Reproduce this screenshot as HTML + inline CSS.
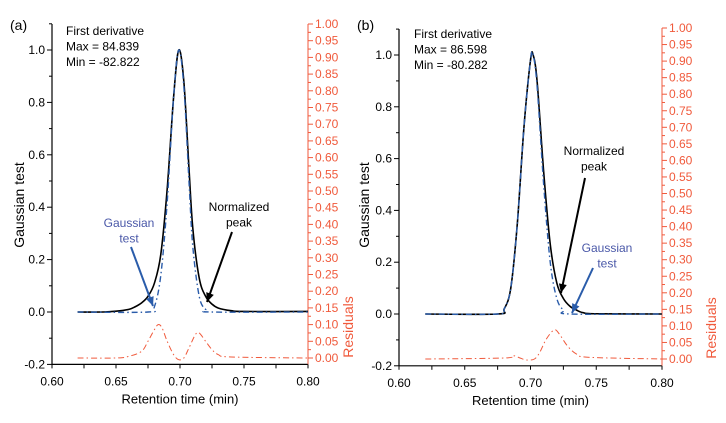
<!DOCTYPE html>
<html><head><meta charset="utf-8"><style>
body{margin:0;background:#fff;}
svg{display:block;font-family:"Liberation Sans",sans-serif;}
</style></head><body>
<svg id="c" width="726" height="423" viewBox="0 0 726 423"></svg>
<script>
const xs_a=[0.62,0.64,0.65,0.66,0.665,0.67,0.675,0.68,0.685,0.69,0.695,0.699,0.703,0.707,0.71,0.715,0.72,0.725,0.73,0.74,0.75,0.8];
const peak_a=[0,0,0.003,0.01,0.02,0.035,0.06,0.11,0.22,0.47,0.82,1.0,0.88,0.55,0.32,0.13,0.06,0.03,0.015,0.005,0.002,0.002];
const gxs_a=[0.62,0.675,0.68,0.685,0.69,0.695,0.699,0.703,0.707,0.71,0.715,0.72,0.725,0.8];
const gauss_a=[0,0,0.02,0.14,0.42,0.82,1.0,0.86,0.5,0.25,0.06,0.01,0,0];
const rxs_a=[0.62,0.65,0.66,0.67,0.675,0.68,0.683,0.686,0.69,0.695,0.699,0.703,0.707,0.712,0.715,0.72,0.725,0.73,0.74,0.8];
const resid_a=[0,0,0.005,0.02,0.05,0.085,0.1,0.09,0.05,0.01,-0.005,0,0.03,0.07,0.075,0.05,0.025,0.01,0.003,0];
const xs_b=[0.62,0.675,0.68,0.685,0.69,0.695,0.70,0.702,0.705,0.71,0.715,0.72,0.725,0.73,0.735,0.74,0.75,0.8];
const peak_b=[0,0,0.02,0.1,0.35,0.72,0.98,1.0,0.9,0.55,0.27,0.12,0.06,0.03,0.015,0.005,0.001,0];
const gxs_b=[0.62,0.675,0.68,0.685,0.69,0.695,0.70,0.702,0.705,0.71,0.715,0.72,0.725,0.73,0.8];
const gauss_b=[0,0,0.02,0.1,0.35,0.72,0.98,1.0,0.88,0.5,0.2,0.06,0.015,0,0];
const rxs_b=[0.62,0.68,0.687,0.692,0.697,0.703,0.707,0.712,0.718,0.722,0.728,0.735,0.745,0.8];
const resid_b=[0,0.003,0.01,0.003,-0.003,0,0.02,0.06,0.088,0.075,0.04,0.015,0.005,0];
const xTicks=[0.60,0.65,0.70,0.75,0.80];
const yTicks=[-0.2,0.0,0.2,0.4,0.6,0.8,1.0];
const rTicks=[0,0.05,0.1,0.15,0.2,0.25,0.3,0.35,0.4,0.45,0.5,0.55,0.6,0.65,0.7,0.75,0.8,0.85,0.9,0.95,1.0];

const svg=document.getElementById('c');
const NS='http://www.w3.org/2000/svg';
function mk(tag,attrs,parent){const e=document.createElementNS(NS,tag);for(const k in attrs)e.setAttribute(k,attrs[k]);(parent||svg).appendChild(e);return e;}
function txt(s,attrs,parent){const e=mk('text',attrs,parent);e.textContent=s;return e;}
function smooth(pts){let d='M'+pts[0][0]+','+pts[0][1];for(let i=0;i<pts.length-1;i++){const p0=pts[Math.max(0,i-1)],p1=pts[i],p2=pts[i+1],p3=pts[Math.min(pts.length-1,i+2)];
const c1=[p1[0]+(p2[0]-p0[0])/6,p1[1]+(p2[1]-p0[1])/6],c2=[p2[0]-(p3[0]-p1[0])/6,p2[1]-(p3[1]-p1[1])/6];d+=' C'+c1+' '+c2+' '+p2;}return d;}

function panel(P){
  const g=mk('g',{});
  
  
  const X=v=>P.x0+(v-0.6)/0.2*(P.x1-P.x0);
  const Y=v=>P.y0+(v-0)*(P.y1-P.y0)/1.0;
  const R=v=>P.r0+v*(P.r1-P.r0);
  const yb=Y(-0.2);
  // axes
  const ax=mk('g',{stroke:'#000','stroke-width':1.2},g);
  mk('line',{x1:P.x0,y1:P.top,x2:P.x0,y2:yb},ax);
  mk('line',{x1:P.x0,y1:yb,x2:P.x1,y2:yb},ax);
  const rx=mk('line',{x1:P.x1,y1:P.r1,x2:P.x1,y2:yb,stroke:'#f05a3c'},g);
  
  for(let v=-0.2;v<=1.1001;v+=0.1){const y=Y(v);const major=Math.abs(Math.round(v*10)%2)===0;mk('line',{x1:P.x0,x2:P.x0-(major?5:3),y1:y,y2:y,stroke:'#000'},g);}
  yTicks.forEach(v=>{const t=txt(v.toFixed(1),{x:P.x0-7,y:Y(v)+4,'font-size':12,'text-anchor':'end'},g);});
  for(let v=0.6;v<=0.8001;v+=0.025){mk('line',{x1:X(v),x2:X(v),y1:yb,y2:yb+4,stroke:'#000'},g);}
  xTicks.forEach(v=>{const t=txt(v.toFixed(2),{x:X(v),y:yb+21,'font-size':12,'text-anchor':'middle'},g);});
  for(let v=0;v<=1.0001;v+=0.025){const maj=Math.abs(Math.round(v*40)%2)===0;mk('line',{x1:P.x1,x2:P.x1+(maj?5:3),y1:R(v),y2:R(v),stroke:'#f05a3c'},g);}
  rTicks.forEach(v=>{const t=txt(v.toFixed(2),{x:P.x1+7,y:R(v)+4,'font-size':12,fill:'#f05a3c'},g);});
  let t=txt('Retention time (min)',{x:(P.x0+P.x1)/2,y:yb+39,'font-size':13,'text-anchor':'middle'},g);
  t=txt('Gaussian test',{x:0,y:0,'font-size':14,'text-anchor':'middle',transform:`translate(${P.ytx},205) rotate(-90)`},g);
  t=txt('Residuals',{x:0,y:0,'font-size':14,'text-anchor':'middle',fill:'#f05a3c',transform:`translate(${P.rtx},${P.rty}) rotate(-90)`},g);
  t=txt('('+P.id+')',{x:P.lx,y:P.ly,'font-size':14},g);
  P.info.forEach((s,i)=>{const e=txt(s,{x:P.ix,y:P.iy+i*15.5,'font-size':12},g);});
  // series
  let p=mk('path',{d:smooth(P.rx.map((x,i)=>[X(x),R(P.rv[i])])),fill:'none',stroke:'#f05a3c','stroke-width':1,'stroke-dasharray':'6,3,1.5,3'},g);
  
  p=mk('path',{d:smooth(P.px.map((x,i)=>[X(x),Y(P.pv[i])])),fill:'none',stroke:'#000','stroke-width':1.6},g);
  
  p=mk('path',{d:smooth(P.gx.map((x,i)=>[X(x),Y(P.gv[i])])),fill:'none',stroke:'#2a5caa','stroke-width':1.4,'stroke-dasharray':'6,3,1.5,3'},g);
  
  // annotations
  P.ann.forEach(a=>{
    const ag=mk('g',{},g);
    a.lines.forEach((s,i)=>txt(s,{x:a.tx,y:a.ty+i*15.5,'font-size':12,'text-anchor':'middle',fill:a.tc},ag));
    const [x1,y1,x2,y2]=a.ar;mk('line',{x1,y1,x2,y2,stroke:a.c,'stroke-width':2},ag);
    const ang=Math.atan2(y2-y1,x2-x1),L=9,W=4;
    const bx=x2-L*Math.cos(ang),by=y2-L*Math.sin(ang);
    mk('polygon',{points:`${x2},${y2} ${bx-W*Math.sin(ang)},${by+W*Math.cos(ang)} ${bx+W*Math.sin(ang)},${by-W*Math.cos(ang)}`,fill:a.c},ag);
  });
}
panel({id:'a',x0:52,x1:308,y0:312,y1:50,top:24,r0:358,r1:24,ytx:24,rtx:353,rty:327,lx:10,ly:30,ix:66,iy:35,
  info:['First derivative','Max = 84.839','Min = -82.822'],
  px:xs_a,pv:peak_a,gx:gxs_a,gv:gauss_a,rx:rxs_a,rv:resid_a,
  ann:[{name:'gaussian-test-annotation',lines:['Gaussian','test'],tx:129,ty:227,tc:'#4a58a8',c:'#2a5caa',ar:[131,247,153,306]},
       {name:'normalized-peak-annotation',lines:['Normalized','peak'],tx:239,ty:211,tc:'#000',c:'#000',ar:[232,232,207,302]}]});
panel({id:'b',x0:399,x1:662,y0:314,y1:55,top:29,r0:359,r1:28,ytx:369,rtx:716,rty:328,lx:357,ly:30,ix:414,iy:38,
  info:['First derivative','Max = 86.598','Min = -80.282'],
  px:xs_b,pv:peak_b,gx:gxs_b,gv:gauss_b,rx:rxs_b,rv:resid_b,
  ann:[{name:'normalized-peak-annotation',lines:['Normalized','peak'],tx:594,ty:155,tc:'#000',c:'#000',ar:[585,178,561,293]},
       {name:'gaussian-test-annotation',lines:['Gaussian','test'],tx:607,ty:252,tc:'#4a58a8',c:'#2a5caa',ar:[593,268,572,313]}]});
</script>
</body></html>
